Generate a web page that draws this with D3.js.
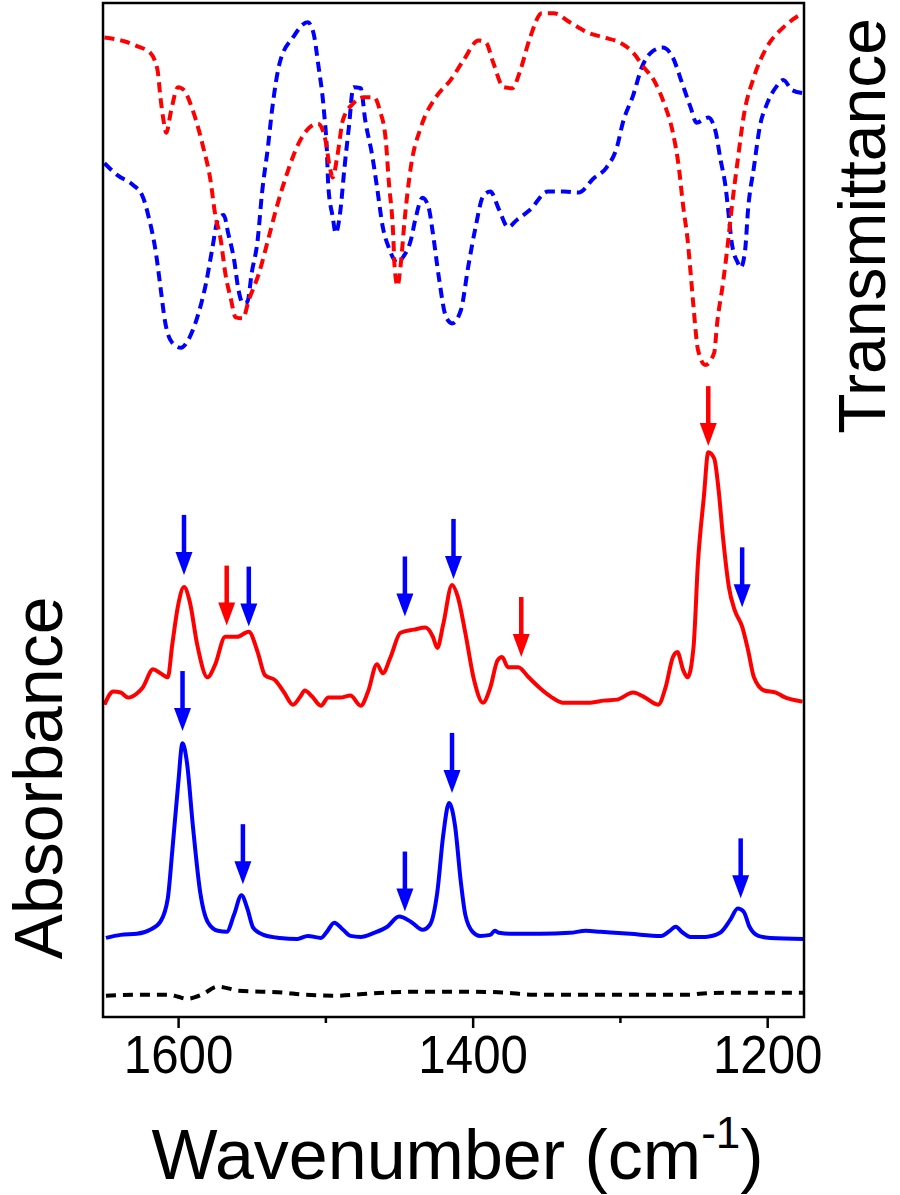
<!DOCTYPE html>
<html>
<head>
<meta charset="utf-8">
<script src="https://cdn.jsdelivr.net/npm/d3@7"></script>
<style>
  html, body { margin: 0; padding: 0; background: #fff; }
  svg { display: block; }
  text { font-family: "Liberation Sans", Arial, sans-serif; fill: #000; }
</style>
</head>
<body>
<div id="chart"></div>
<script>
// wavenumber (cm-1), intensity (a.u., spectra stacked with offsets)
var redTrans = [[1650,96.6],[1636,96.2],[1627,95.7],[1619,95.1],[1614,93.4],[1612,90.7],[1610,88.5],[1608,87.2],
  [1605,89.2],[1600,91.7],[1596,91.4],[1590,89.4],[1583,85.8],[1578,82.5],[1575,79.3],[1571,76.6],[1568,73.4],
  [1564,70.7],[1561,69.0],[1556,68.9],[1552,70.7],[1545,73.4],[1539,76.6],[1533,79.9],[1526,83.2],[1518,86.2],
  [1511,87.7],[1505,88.1],[1500,86.5],[1497,83.8],[1495,82.8],[1492,84.8],[1488,88.5],[1481,90.1],[1474,90.7],
  [1467,90.7],[1463,89.4],[1459,86.5],[1457,82.5],[1454,77.3],[1453,74.0],[1451,72.1],[1449,74.0],[1446,78.9],
  [1442,83.8],[1435,87.8],[1425,90.7],[1415,92.4],[1406,94.4],[1396,96.3],[1391,96.1],[1386,94.1],[1379,91.7],
  [1373,91.6],[1368,93.2],[1361,96.6],[1353,99.0],[1345,99.0],[1334,98.1],[1322,97.1],[1311,96.6],[1300,96.1],
  [1291,95.1],[1284,93.7],[1277,92.4],[1270,90.1],[1264,87.2],[1260,83.8],[1257,79.9],[1254,76.6],[1252,73.4],
  [1250,70.0],[1247,65.8],[1242,64.3],[1236,65.5],[1234,68.4],[1230,72.4],[1227,75.9],[1224,79.9],[1220,84.5],
  [1216,88.8],[1209,92.7],[1200,95.7],[1189,97.6],[1176,99.0]];

var blueTrans = [[1650,84.2],[1641,83.0],[1631,82.1],[1624,80.9],[1620,78.9],[1615,75.3],[1612,72.0],[1609,68.7],
  [1604,66.5],[1598,66.0],[1593,66.8],[1587,69.0],[1581,72.4],[1577,75.6],[1573,78.6],[1569,79.1],[1566,77.3],
  [1562,74.7],[1559,71.7],[1556,70.4],[1553,70.5],[1550,73.4],[1546,76.6],[1543,81.3],[1539,85.8],[1536,89.7],
  [1531,94.1],[1522,96.6],[1512,98.1],[1508,97.0],[1505,94.1],[1501,89.4],[1499,85.5],[1498,81.9],[1495,78.9],
  [1493,77.3],[1490,79.3],[1487,83.8],[1484,87.8],[1481,91.7],[1476,91.6],[1473,88.5],[1468,84.8],[1465,81.9],
  [1461,77.9],[1457,75.9],[1451,74.4],[1447,75.0],[1442,76.6],[1439,78.6],[1434,80.8],[1430,79.9],[1427,77.3],
  [1423,73.0],[1418,69.0],[1414,68.4],[1408,69.7],[1403,74.0],[1398,77.9],[1393,80.9],[1388,81.4],[1382,79.6],
  [1376,77.9],[1370,78.6],[1361,79.6],[1349,81.4],[1338,81.4],[1328,81.3],[1318,82.7],[1309,83.8],[1302,85.8],
  [1298,88.2],[1291,90.9],[1285,93.7],[1279,95.1],[1271,95.6],[1264,94.6],[1258,92.2],[1252,89.7],[1248,88.2],
  [1240,88.7],[1235,87.3],[1232,84.8],[1228,81.6],[1226,78.9],[1224,76.3],[1220,74.4],[1218,73.9],[1215,75.6],
  [1213,79.6],[1209,83.8],[1205,87.8],[1200,90.1],[1194,91.7],[1189,92.4],[1183,91.4],[1175,91.1]];

var redAbs = [[1650,30.8],[1644,32.1],[1639,32.0],[1634,31.5],[1628,31.9],[1624,32.5],[1617,34.3],[1612,33.9],
  [1607,33.5],[1604,36.7],[1600,40.6],[1596,42.4],[1592,40.9],[1587,36.7],[1580,33.5],[1575,34.7],[1568,37.5],
  [1560,37.5],[1552,38.0],[1546,36.0],[1541,33.7],[1534,33.2],[1528,32.0],[1522,30.8],[1517,31.6],[1514,32.2],
  [1509,31.6],[1503,30.7],[1498,31.5],[1490,31.5],[1483,31.7],[1476,30.7],[1471,32.1],[1465,34.8],[1461,33.9],
  [1456,35.4],[1449,37.9],[1440,38.2],[1432,38.4],[1427,37.5],[1424,36.4],[1420,38.7],[1414,42.6],[1410,41.4],
  [1405,37.9],[1399,33.2],[1393,31.0],[1388,32.5],[1383,35.2],[1380,35.5],[1376,34.5],[1369,34.5],[1362,33.5],
  [1354,32.4],[1347,31.6],[1339,31.0],[1332,31.0],[1320,31.0],[1311,31.2],[1302,31.3],[1291,32.0],[1284,31.6],
  [1274,30.8],[1269,32.5],[1264,35.5],[1261,36.0],[1257,34.2],[1254,33.5],[1250,36.5],[1247,44.8],[1243,51.3],
  [1240,55.7],[1236,55.1],[1233,52.0],[1230,47.3],[1226,42.4],[1222,40.1],[1217,38.5],[1213,36.2],[1209,33.5],
  [1202,32.2],[1194,32.0],[1189,31.6],[1176,31.1]];

var blueAbs = [[1649,7.8],[1639,8.1],[1628,8.2],[1619,8.6],[1612,9.4],[1607,11.7],[1604,16.3],[1600,22.9],
  [1597,27.0],[1594,25.1],[1590,18.9],[1585,12.3],[1580,9.4],[1573,8.5],[1567,8.4],[1562,10.1],[1557,12.0],
  [1553,10.7],[1549,8.8],[1542,8.1],[1531,7.8],[1519,7.7],[1512,8.0],[1503,7.8],[1499,8.4],[1494,9.3],[1488,8.6],
  [1483,8.0],[1476,7.9],[1467,8.3],[1458,8.9],[1450,9.9],[1442,9.4],[1434,8.6],[1429,9.1],[1424,12.3],[1420,17.9],
  [1416,21.1],[1412,18.9],[1408,13.3],[1405,10.1],[1400,8.4],[1395,8.0],[1388,8.1],[1385,8.5],[1382,8.3],
  [1374,8.2],[1354,8.2],[1334,8.3],[1323,8.5],[1313,8.4],[1293,8.2],[1272,8.0],[1267,8.4],[1262,8.9],[1258,8.4],
  [1252,7.9],[1242,7.9],[1232,8.3],[1225,9.6],[1220,10.7],[1216,10.4],[1212,8.9],[1206,8.0],[1198,7.8],[1175,7.7]];

var blankAbs = [[1649,2.1],[1628,2.2],[1606,2.2],[1600,2.0],[1594,1.8],[1584,2.2],[1573,3.0],[1559,2.6],[1528,2.4],
  [1515,2.2],[1493,2.1],[1471,2.3],[1440,2.5],[1403,2.5],[1378,2.4],[1359,2.2],[1315,2.2],[1252,2.2],[1246,2.3],
  [1221,2.4],[1175,2.4]];

// peak markers: wavenumber, intensity at arrow tip, colour
var arrowWn  = [1596, 1567, 1552, 1446, 1413, 1367, 1240, 1217, 1597, 1556, 1446, 1414, 1218];
var arrowTip = [43.6, 38.6, 38.5, 39.5, 43.2, 35.5, 56.3, 40.4, 28.2, 13.1, 10.4, 22.1, 11.7];
var arrowCol = ["blue", "red", "blue", "blue", "blue", "red", "red", "blue", "blue", "blue", "blue", "blue", "blue"];

var majorTicks = [1600, 1400, 1200];
var minorTicks = [1500, 1300];

var W = 900, H = 1195;
var margin = {left: 103, top: 3, right: 96, bottom: 178};
var iw = W - margin.left - margin.right;
var ih = H - margin.top - margin.bottom;

var RED = "#ff0000", BLUE = "#0000ff";

var svg = d3.select("#chart").append("svg")
  .attr("width", W)
  .attr("height", H);

var x = d3.scaleLinear().domain([1651, 1175]).range([0, iw]);
var y = d3.scaleLinear().domain([0, 100]).range([ih, 0]);

var g = svg.append("g").attr("transform", "translate(" + margin.left + "," + margin.top + ")");

g.append("clipPath").attr("id", "clip")
  .append("rect").attr("width", iw).attr("height", ih);

var line = d3.line()
  .x(function (d) { return x(d[0]) })
  .y(function (d) { return y(d[1]) })
  .curve(d3.curveMonotoneX);

var plot = g.append("g").attr("clip-path", "url(#clip)");

var series = [
  {data: blueTrans, color: BLUE, dash: "10,6"},
  {data: redTrans,  color: RED,  dash: "10,6"},
  {data: redAbs,    color: RED,  dash: null},
  {data: blueAbs,   color: BLUE, dash: null},
  {data: blankAbs,  color: "#000", dash: "10,7"}
];

series.forEach(function (s) {
  plot.append("path")
    .datum(s.data)
    .attr("fill", "none")
    .attr("stroke", s.color)
    .attr("stroke-width", 4)
    .attr("stroke-dasharray", s.dash)
    .attr("stroke-linejoin", "round")
    .attr("d", line);
});

// arrows pointing down at the peaks
var shaftLen = 60, headLen = 23, headW = 8.5;
arrowWn.forEach(function (wn, i) {
  var ax = x(wn), ay = y(arrowTip[i]);
  var col = arrowCol[i] == "red" ? RED : BLUE;
  g.append("line")
    .attr("x1", ax).attr("x2", ax)
    .attr("y1", ay - shaftLen).attr("y2", ay - headLen + 2)
    .attr("stroke", col)
    .attr("stroke-width", 4.5);
  g.append("path")
    .attr("d", "M" + (ax - headW) + "," + (ay - headLen) + "L" + (ax + headW) + "," + (ay - headLen) +
      "L" + ax + "," + ay + "Z")
    .attr("fill", col);
});

// frame
g.append("rect")
  .attr("width", iw).attr("height", ih)
  .attr("fill", "none")
  .attr("stroke", "#000")
  .attr("stroke-width", 2.5);

// bottom axis
var xAxis = d3.axisBottom(x)
  .tickValues(majorTicks)
  .tickSize(11)
  .tickSizeOuter(0)
  .tickPadding(7)
  .tickFormat(d3.format("d"));

var ax = g.append("g")
  .attr("transform", "translate(0," + ih + ")")
  .call(xAxis);
ax.select(".domain").remove();
ax.selectAll(".tick line").attr("stroke", "#000").attr("stroke-width", 2.5);
ax.selectAll(".tick text")
  .attr("font-size", 53)
  .attr("transform", "scale(0.93,1)")
  .attr("font-family", "'Liberation Sans', Arial, sans-serif")
  .attr("fill", "#000");

var minor = d3.axisBottom(x)
  .tickValues(minorTicks)
  .tickSize(6)
  .tickSizeOuter(0)
  .tickFormat("");
var mx = g.append("g")
  .attr("transform", "translate(0," + ih + ")")
  .call(minor);
mx.select(".domain").remove();
mx.selectAll(".tick line").attr("stroke", "#000").attr("stroke-width", 2.5);

// axis titles
var xt = svg.append("text")
  .attr("x", margin.left + iw / 2 + 4)
  .attr("y", 1179)
  .attr("text-anchor", "middle")
  .attr("font-size", 70);
xt.append("tspan").text("Wavenumber (cm");
xt.append("tspan").attr("font-size", 44).attr("dy", -31).text("-1");
xt.append("tspan").attr("dy", 31).text(")");

svg.append("text")
  .attr("transform", "translate(62,778) rotate(-90)")
  .attr("text-anchor", "middle")
  .attr("font-size", 68)
  .text("Absorbance");

svg.append("text")
  .attr("transform", "translate(885,226) rotate(-90)")
  .attr("text-anchor", "middle")
  .attr("font-size", 66)
  .text("Transmittance");
</script>
</body>
</html>
